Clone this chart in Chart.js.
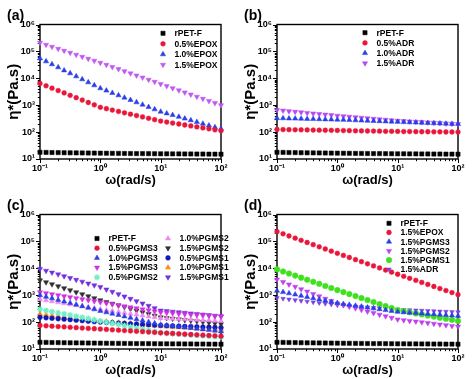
<!DOCTYPE html>
<html><head><meta charset="utf-8">
<script src="https://cdn.jsdelivr.net/npm/chart.js@4.4.0/dist/chart.umd.min.js"></script>
<style>
html,body{margin:0;padding:0;background:#fff;width:474px;height:379px;overflow:hidden}
canvas{position:absolute}
</style></head><body>
<canvas id="ca" width="237" height="190" style="left:0;top:0"></canvas>
<canvas id="cb" width="237" height="190" style="left:237px;top:0"></canvas>
<canvas id="cc" width="237" height="190" style="left:0;top:190px"></canvas>
<canvas id="cd" width="237" height="190" style="left:237px;top:190px"></canvas>
<script>
// ---- data ----
const freq = [0.1,0.126,0.158,0.2,0.251,0.316,0.398,0.501,0.631,0.794,1,1.26,1.58,2,2.51,3.16,3.98,5.01,6.31,7.94,10,12.6,15.8,20,25.1,31.6,39.8,50.1,63.1,79.4,100];
const xTickValues = [0.1,1,10,100];
const xTickLabels = ['10\u207B\u00B9','10\u2070','10\u00B9','10\u00B2'];
const yTickValues = [10,100,1000,10000,100000,1000000];
const yTickLabels = ['10\u00B9','10\u00B2','10\u00B3','10\u2074','10\u2075','10\u2076'];
const panelLabels = ['(a)','(b)','(c)','(d)'];
const xTitle = '\u03C9(rad/s)';
const yTitle = '\u03B7*(Pa.s)';

const rpetF = [17.8,17.6,17.4,17.3,17.1,17.0,16.9,16.8,16.7,16.6,16.5,16.4,16.3,16.2,16.1,16.0,15.9,15.9,15.8,15.7,15.6,15.6,15.5,15.5,15.4,15.4,15.3,15.3,15.2,15.2,15.1];
const epox05 = [6460,5270,4290,3500,2850,2330,1900,1550,1260,1030,832,740,658,585,520,462,411,365,325,289,257,236,217,200,184,169,156,143,132,121,112];
const epox10 = [55000,42600,33000,25500,19700,15300,11800,9150,7080,5480,4260,3490,2850,2330,1910,1560,1280,1045,855,700,573,496,428,370,319,275,238,205,177,153,132];
const epox15 = [209000,176000,149000,125000,106000,89000,75000,63300,53400,45000,38000,31700,26400,22000,18400,15300,12800,10700,8900,7420,6170,5150,4290,3580,2990,2490,2080,1730,1445,1205,1000];
const adr05 = [125,124,123,122,121,120,119,118,117,116,115,114,113,112,111,110,109,108,107,107,106,105,105,104,103,103,102,102,101,101,100];
const adr10 = [330,326,321,317,313,309,305,301,297,294,290,285,280,274,269,264,259,254,249,245,240,235,231,227,222,218,214,210,206,202,198];
const adr15 = [660,629,599,571,544,518,494,471,449,428,408,390,374,358,342,328,313,300,287,275,263,256,249,242,236,229,223,217,211,206,200];
const pgms3_05 = [75,72.7,70.4,68.2,66.1,64.1,62.1,60.2,58.3,56.5,55,53.3,51.6,50,48.5,47,45.5,44.1,42.7,41.4,40,38.9,37.8,36.7,35.6,34.6,33.6,32.7,31.7,30.9,30];
const pgms3_10 = [1000,874,764,668,584,510,446,390,341,298,260,231,206,183,162,144,128,114,101,90,80,75.5,71.3,67.3,63.5,60,56.6,53.4,50.4,47.6,45];
const pgms3_15 = [1300,1193,1095,1004,922,846,776,712,653,600,550,504,462,423,388,356,326,299,274,251,230,222,214,206,199,192,185,178,172,166,160];
const pgms2_05 = [300,271,245,222,201,182,164,149,135,122,110,99.5,90,81.3,73.6,66.5,60.1,54.4,49.2,44.5,40,38.6,37.2,35.9,34.7,33.5,32.3,31.2,30.1,29,28];
const pgms2_10 = [700,643,591,543,499,458,421,387,355,327,300,278,258,239,221,205,190,176,163,151,140,137,134,130,127,124,121,118,116,113,110];
const pgms2_15 = [3600,3034,2557,2155,1816,1531,1290,1087,916,772,650,561,485,419,362,312,270,233,201,174,150,142,134,127,120,113,107,101,95,90,85];
const pgms1_05 = [150,144,138,133,128,123,118,113,108,104,100,97.2,94.4,91.7,89.1,86.6,84.1,81.7,79.4,77.2,75,73.6,72.2,70.8,69.5,68.2,66.9,65.6,64.4,63.2,62];
const pgms1_10 = [200,188,177,167,157,148,140,132,124,117,110,105,100.5,96,92,88,84,80,76.6,73.2,70,68,66,64,62.2,60.4,58.6,56.9,55.2,53.6,52];
const pgms1_15 = [9500,8129,6956,5952,5093,4358,3729,3191,2731,2337,2000,1637,1340,1096,897,734,601,492,403,330,270,257,245,233,222,211,201,191,182,173,165];
const dEpox15 = [230000,191100,158800,131900,109600,91100,75700,62900,52200,43400,36000,30100,25200,21000,17600,14700,12300,10300,8580,7170,6000,5040,4230,3560,2990,2510,2110,1770,1490,1250,1050];
const dPgms3_15 = [1450,1306,1176,1060,954,860,774,697,628,566,510,473,439,407,377,350,324,301,279,259,240,232,224,216,209,202,195,188,182,176,170];
const dPgms2_15 = [3800,3097,2524,2057,1677,1367,1114,908,740,603,490,428,373,326,285,248,217,189,165,144,126,118,111,105,98.5,92.6,87,81.8,76.9,72.3,68];
const dPgms1_15 = [9100,7625,6389,5353,4486,3759,3149,2639,2211,1853,1550,1306,1101,928,782,659,555,468,394,332,280,255,232,211,193,175,160,146,133,121,110];
const dAdr15 = [790,743,700,658,620,583,549,516,486,457,430,414,399,384,370,356,343,330,318,306,295,288,282,276,269,263,257,252,246,240,235];

// ---- styles ----
const FONT = "'Liberation Sans', Arial, sans-serif";
const SQ = {pointStyle:'rect', r:3, rot:0};
const CI = {pointStyle:'circle', r:2.4, rot:0};
const UP = {pointStyle:'triangle', r:3, rot:0};
const DN = {pointStyle:'triangle', r:3, rot:180};
const ST = {pointStyle:'star', r:3, rot:0, bw:1.3};

const panels = [
  {id:'ca', label:panelLabels[0], legend:{cols:[{x:163,y:33.3}], dy:10.5}, series:[
    ['rPET-F', rpetF, '#000000', SQ],
    ['0.5%EPOX', epox05, '#e8173a', CI],
    ['1.0%EPOX', epox10, '#2a3fe8', UP],
    ['1.5%EPOX', epox15, '#c058f2', DN]]},
  {id:'cb', label:panelLabels[1], legend:{cols:[{x:128,y:32.7}], dy:10.2}, series:[
    ['rPET-F', rpetF, '#000000', SQ],
    ['0.5%ADR', adr05, '#e8173a', CI],
    ['1.0%ADR', adr10, '#2a3fe8', UP],
    ['1.5%ADR', adr15, '#b848f0', DN]]},
  {id:'cc', label:panelLabels[2], legend:{cols:[{x:97,y:48.5},{x:168,y:48.5}], dy:9.7, perCol:5}, series:[
    ['rPET-F', rpetF, '#000000', SQ],
    ['0.5%PGMS3', pgms3_05, '#e8173a', CI],
    ['1.0%PGMS3', pgms3_10, '#2a3fe8', UP],
    ['1.5%PGMS3', pgms3_15, '#d030e0', DN],
    ['0.5%PGMS2', pgms2_05, '#70f0c8', ST],
    ['1.0%PGMS2', pgms2_10, '#f088f0', UP],
    ['1.5%PGMS2', pgms2_15, '#303030', DN],
    ['0.5%PGMS1', pgms1_05, '#1018b8', CI],
    ['1.0%PGMS1', pgms1_10, '#ff8a10', UP],
    ['1.5%PGMS1', pgms1_15, '#7030e0', DN]]},
  {id:'cd', label:panelLabels[3], legend:{cols:[{x:152,y:33.3}], dy:9.2}, series:[
    ['rPET-F', rpetF, '#000000', SQ],
    ['1.5%EPOX', dEpox15, '#e8173a', CI],
    ['1.5%PGMS3', dPgms3_15, '#2a3fe8', UP],
    ['1.5%PGMS2', dPgms2_15, '#c040f0', DN],
    ['1.5%PGMS1', dPgms1_15, '#40e020', {pointStyle:'circle', r:2.8, rot:0}],
    ['1.5%ADR', dAdr15, '#7a40e0', {pointStyle:'triangle', r:2.6, rot:180}]]}
];

function drawMarker(ctx, st, color, x, y) {
  ctx.save();
  ctx.fillStyle = color; ctx.strokeStyle = color;
  ctx.lineWidth = st.bw || 0.5;
  if (Chart.helpers && Chart.helpers.drawPoint) {
    Chart.helpers.drawPoint(ctx, {pointStyle: st.pointStyle, radius: st.r, rotation: st.rot, borderWidth: st.bw || 0.5}, x, y);
  } else {
    ctx.beginPath(); ctx.arc(x, y, st.r, 0, Math.PI*2); ctx.fill();
  }
  ctx.restore();
}

const framePlugin = {
  id: 'frame',
  beforeDatasetsDraw(chart) {
    const {ctx, chartArea: {left, right, top, bottom}, scales: {x, y}} = chart;
    ctx.save();
    ctx.strokeStyle = '#000';
    ctx.lineWidth = 1.4;
    ctx.strokeRect(left, top, right - left, bottom - top);
    ctx.lineWidth = 1;
    ctx.beginPath();
    for (let e = -1; e <= 2; e++) {
      for (let m = 1; m <= 9; m++) {
        const v = m * Math.pow(10, e);
        if (v > x.max * 1.0001) break;
        const px = Math.round(x.getPixelForValue(v)) + 0.5;
        const len = m === 1 ? 4 : 2.2;
        ctx.moveTo(px, bottom); ctx.lineTo(px, bottom + len);
      }
    }
    for (let e = 1; e <= 6; e++) {
      for (let m = 1; m <= 9; m++) {
        const v = m * Math.pow(10, e);
        if (v > y.max * 1.0001) break;
        const py = Math.round(y.getPixelForValue(v)) + 0.5;
        const len = m === 1 ? 4 : 2.2;
        ctx.moveTo(left, py); ctx.lineTo(left - len, py);
      }
    }
    ctx.stroke();
    ctx.restore();
  },
  afterDraw(chart) {
    const p = chart.options.plugins.frame;
    const ctx = chart.ctx;
    ctx.save();
    ctx.fillStyle = '#000';
    ctx.font = 'bold 14px ' + FONT;
    ctx.textAlign = 'left'; ctx.textBaseline = 'middle';
    ctx.fillText(p.label, 7, 16);
    ctx.font = 'bold 8.5px ' + FONT;
    const lg = p.legend;
    const per = lg.perCol || p.series.length;
    p.series.forEach((s, i) => {
      const col = lg.cols[Math.floor(i / per)];
      const row = i % per;
      const yy = col.y + row * lg.dy;
      drawMarker(ctx, s[3], s[2], col.x, yy);
      ctx.fillStyle = '#000';
      ctx.fillText(s[0], col.x + 11.5, yy + 0.5);
    });
    ctx.restore();
  }
};

panels.forEach(p => {
  const datasets = p.series.map(s => ({
    label: s[0],
    data: freq.map((f, i) => ({x: f, y: s[1][i]})),
    backgroundColor: s[2],
    borderColor: s[2],
    pointStyle: s[3].pointStyle,
    pointRadius: s[3].r,
    pointRotation: s[3].rot,
    pointBorderWidth: s[3].bw || 0.5,
    pointHoverRadius: s[3].r,
    showLine: false,
    clip: false
  }));
  new Chart(document.getElementById(p.id), {
    type: 'scatter',
    data: {datasets},
    plugins: [framePlugin],
    options: {
      responsive: false,
      animation: false,
      devicePixelRatio: 1,
      layout: {padding: {top: 24.5, right: 16, left: 0, bottom: 0}},
      plugins: {
        legend: {display: false},
        tooltip: {enabled: false},
        frame: {label: p.label, legend: p.legend, series: p.series}
      },
      scales: {
        x: {
          type: 'logarithmic', min: 0.1, max: 100,
          grid: {display: false, drawTicks: false},
          border: {display: false},
          afterBuildTicks: s => { s.ticks = xTickValues.map(v => ({value: v})); },
          afterFit: s => { s.height = 31; },
          ticks: {
            autoSkip: false, maxRotation: 0, minRotation: 0, padding: 4,
            color: '#000', font: {family: FONT, size: 9, weight: 'bold'},
            callback: (v, i) => xTickLabels[i]
          },
          title: {display: true, text: xTitle, color: '#000',
            font: {family: FONT, size: 13, weight: 'bold'}, padding: {top: 0, bottom: 1.5}}
        },
        y: {
          type: 'logarithmic', min: 10, max: 1000000,
          grid: {display: false, drawTicks: false},
          border: {display: false},
          afterBuildTicks: s => { s.ticks = yTickValues.map(v => ({value: v})); },
          afterFit: s => { s.width = 40; },
          ticks: {
            autoSkip: false, padding: 5,
            color: '#000', font: {family: FONT, size: 9, weight: 'bold'},
            callback: (v, i) => yTickLabels[i]
          },
          title: {display: true, text: yTitle, color: '#000',
            font: {family: FONT, size: 15, weight: 'bold'}, padding: {top: 5, bottom: 0}}
        }
      }
    }
  });
});
</script>
</body></html>
